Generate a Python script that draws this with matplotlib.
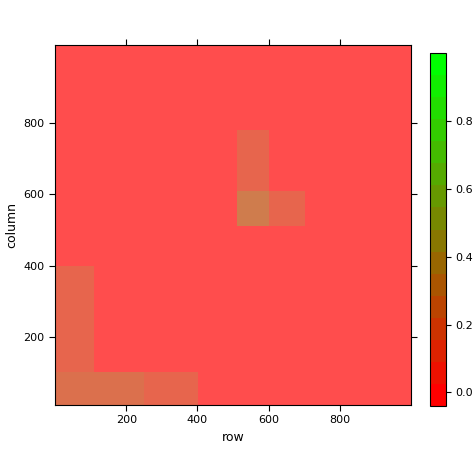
import numpy as np
import matplotlib
matplotlib.use("Agg")
import matplotlib.pyplot as plt
from matplotlib.colors import LinearSegmentedColormap, BoundaryNorm
from matplotlib.cm import ScalarMappable

# rectangular regions (row0,row1,col0,col1,value)
reg_row0 = [0, 0, 0, 510, 510, 510, 600]
reg_row1 = [110, 250, 400, 600, 700, 600, 700]
reg_col0 = [100, 0, 0, 610, 510, 510, 510]
reg_col1 = [400, 100, 100, 780, 610, 610, 610]
reg_val = [0.13, 0.17, 0.1, 0.13, 0.13, 0.22, 0.12]
base_val = 0.0

NR, NC = 1000, 1025
M = np.full((NC, NR), base_val)  # M[col, row]
for r0, r1, c0, c1, v in zip(reg_row0, reg_row1, reg_col0, reg_col1, reg_val):
    M[c0:c1, r0:r1] = np.maximum(M[c0:c1, r0:r1], v)

levels = np.linspace(-0.04, 1.0, 17)
cmap = LinearSegmentedColormap.from_list("rg", ["#FF0000", "#808000", "#00FF00"], N=16)
norm = BoundaryNorm(levels, 16)

fig = plt.figure(figsize=(4.74, 4.74), dpi=100)
ax = fig.add_axes([55/474, 69/474, 356/474, 360/474])
ax.imshow(M, origin="lower", extent=[0, NR, 0, NC], cmap=cmap, norm=norm,
          alpha=0.7, aspect="auto", interpolation="nearest")
ax.set_xlim(0, 1000); ax.set_ylim(8, 1020)
ax.set_xticks([200, 400, 600, 800]); ax.set_yticks([200, 400, 600, 800])
ax.tick_params(top=True, right=True, direction="out", labelsize=8, length=4)
ax.set_xlabel("row", fontsize=9); ax.set_ylabel("column", fontsize=9)
for s in ax.spines.values():
    s.set_linewidth(0.8)

cax = fig.add_axes([430/474, 68/474, 16/474, 353/474])
sm = ScalarMappable(norm=norm, cmap=cmap)
cb = fig.colorbar(sm, cax=cax, ticks=[0.0, 0.2, 0.4, 0.6, 0.8], drawedges=False)
cb.ax.minorticks_off()
cb.ax.tick_params(labelsize=8, direction="out")
cb.ax.set_yticklabels(["0.0", "0.2", "0.4", "0.6", "0.8"])
fig.savefig("out.png", dpi=100)
